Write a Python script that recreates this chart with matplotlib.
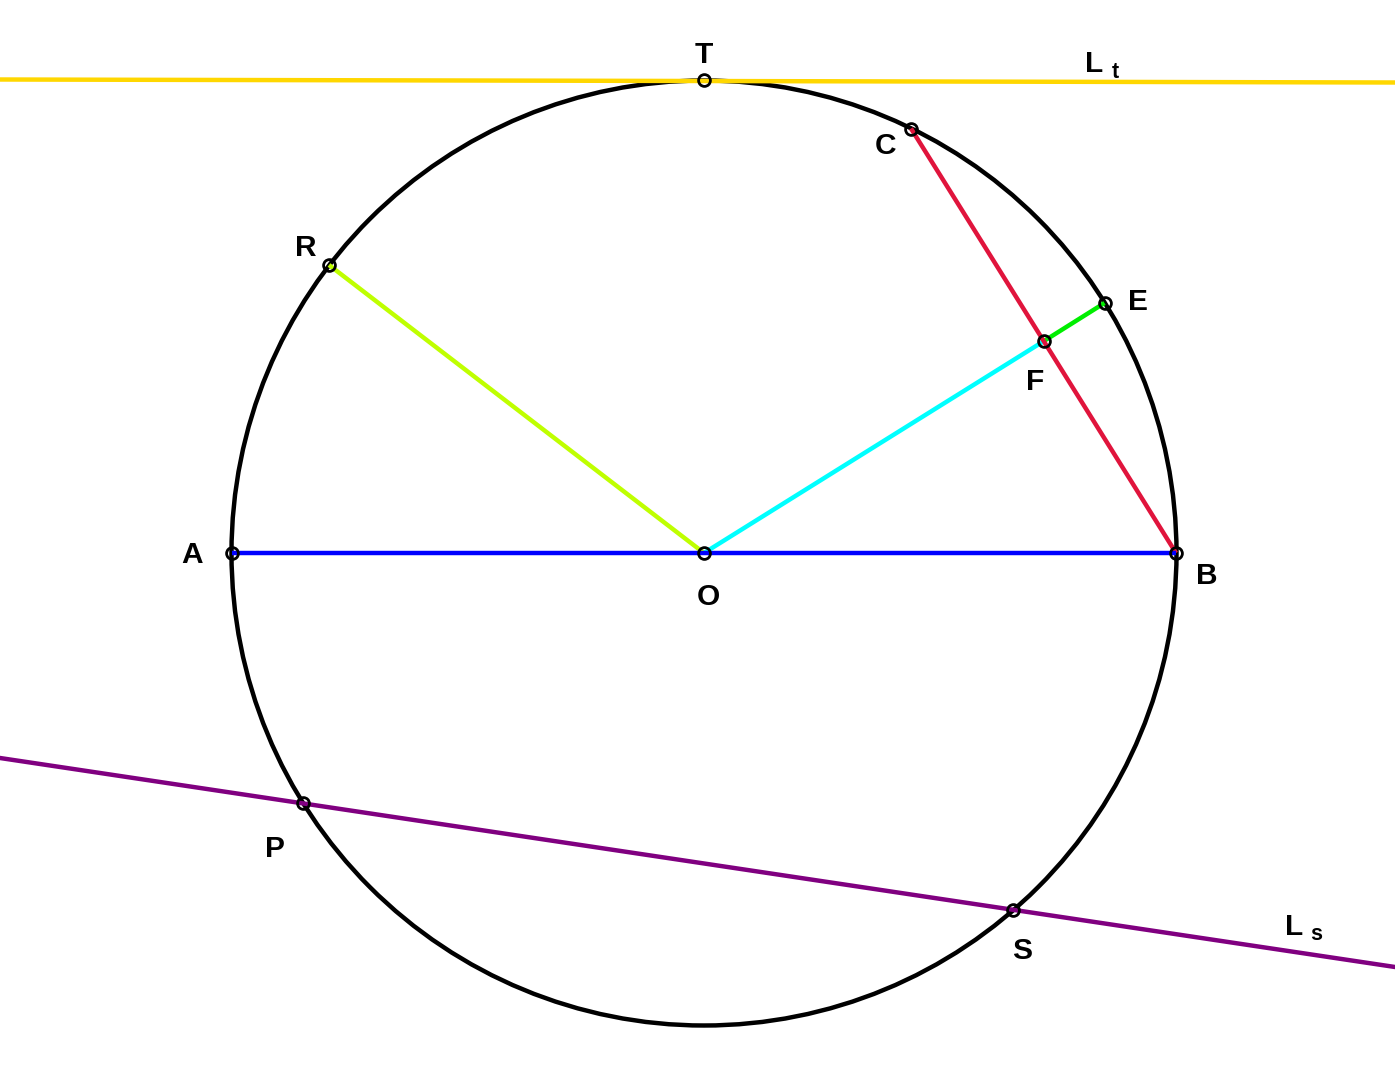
#!/usr/bin/env python3
import numpy as np
import matplotlib
matplotlib.use("Agg")
import matplotlib.pyplot as plt
from matplotlib.patches import Circle

W, H = 1395, 1079

# circle, in image pixels
center = (704, 553)
radius = 472.5

# named points on the drawing
point_names = ["T", "C", "E", "F", "R", "A", "O", "B", "P", "S"]
point_x = [704, 911, 1104.5, 1044, 329, 232, 704, 1176, 303, 1013]
point_y = [80, 128.5, 303, 341, 265, 553, 553, 553, 803, 910]

# segments
tangent_x = [0, 1395]
tangent_y = [79.5, 82.5]
secant_x = [0, 1395]
secant_y = [758, 967]
segments = [
    ("R", "O", "#bfff00"),
    ("O", "F", "#00ffff"),
    ("F", "E", "#00ee00"),
    ("C", "B", "#e0143c"),
    ("A", "B", "#0000ff"),
]

# labels
label_names = ["T", "C", "E", "F", "R", "A", "O", "B", "P", "S", "L", "L"]
label_x = [704, 885, 1137.5, 1035, 306, 192, 708, 1206.5, 275, 1022, 1094, 1294]
label_y = [55, 146, 302, 382, 248, 555, 597, 576, 849, 951, 64, 927]
sub_names = ["t", "s"]
sub_x = [1115, 1316]
sub_y = [73, 935]

plt.rcParams["font.family"] = ["Liberation Sans", "DejaVu Sans"]

fig = plt.figure(figsize=(W / 100, H / 100), dpi=100)
ax = fig.add_axes([0, 0, 1, 1])
ax.set_xlim(0, W)
ax.set_ylim(H, 0)
ax.axis("off")

lw = 3.2
ax.add_patch(Circle(center, radius, fill=False, ec="black", lw=lw, zorder=1))

pts = {n: (x, y) for n, x, y in zip(point_names, point_x, point_y)}

ax.plot(tangent_x, tangent_y, color="#ffd700", lw=lw, zorder=2)
ax.plot(secant_x, secant_y, color="#800080", lw=lw, zorder=2)
for a, b, col in segments:
    ax.plot([pts[a][0], pts[b][0]], [pts[a][1], pts[b][1]], color=col, lw=lw, zorder=2,
            solid_capstyle="butt")

# hollow markers so the lines show through
ax.plot(point_x, point_y, "o", ms=8.5, mfc="none", mec="black", mew=2.0, zorder=4)

for s, x, y in zip(label_names, label_x, label_y):
    ax.text(x, y, s, fontsize=21.5, fontweight="bold", ha="center", va="center", color="black")
for s, x, y in zip(sub_names, sub_x, sub_y):
    ax.text(x, y, s, fontsize=15.5, fontweight="bold", ha="center", va="center", color="black")

fig.savefig("out.png", dpi=100, facecolor="white")
